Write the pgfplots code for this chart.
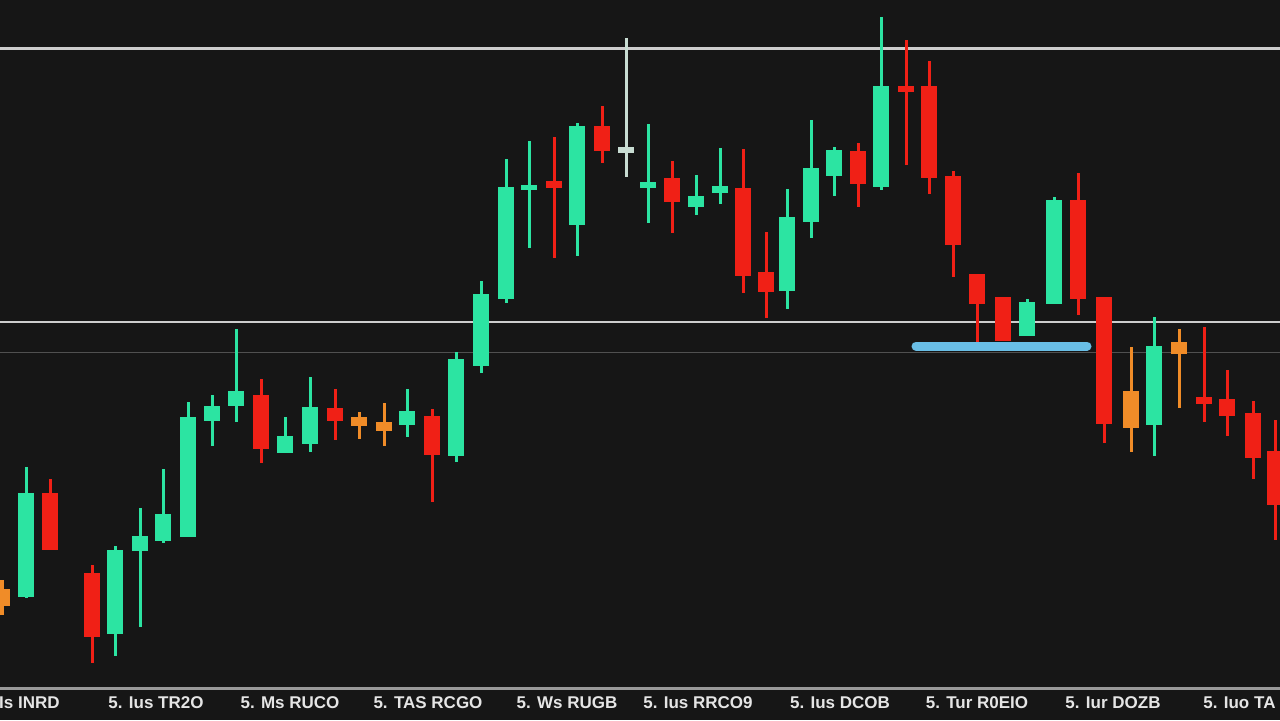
\documentclass[border=0pt]{standalone}
\usepackage{pgfplots}
\usepackage{pgfplotstable}
\usepackage{fontspec}
\setmainfont{Liberation Sans}
\pgfplotsset{compat=1.18}

\definecolor{bg}{RGB}{22,22,22}
\definecolor{up}{RGB}{44,228,162}
\definecolor{down}{RGB}{240,32,22}
\definecolor{amber}{RGB}{240,140,40}
\definecolor{doji}{RGB}{200,220,210}
\definecolor{level}{RGB}{205,205,205}
\definecolor{zone}{RGB}{105,190,230}

% x, high, low, body top, body bottom
\pgfplotstableread{
x hi lo top bot
26 253 122 226 124
115 174 64 169 87
140 212 93 183 170
163 251 177 205 180
188 318 184 302 184
212 325 274 313 300
236 391 298 328 315
285 303 268 283 268
310 343 268 312 277
407 331 283 308 296
456 368 258 360 265
481 439 347 425 355
506 561 417 532 422
529 579 472 534 531
577 597 464 593 496
648 596 497 537 533
696 545 505 523 514
720 572 516 533 528
787 531 411 502 430
811 600 482 551 499
834 573 524 569 545
881 703 530 633 534
1027 421 385 417 385
1054 523 417 519 417
1154 403 264 373 296
}\greentab

\pgfplotstableread{
x hi lo top bot
50 241 171 226 171
92 155 57 146 84
261 341 257 324 272
335 331 280 311 300
432 311 218 303 266
554 583 462 538 533
602 614 557 593 570
672 559 487 541 519
743 571 427 531 445
766 488 402 447 429
858 577 513 568 537
906 680 555 633 629
929 659 526 633 543
953 549 443 543 476
977 445 370 445 417
1003 422 380 422 380
1078 547 405 519 422
1104 422 277 422 297
1204 393 298 322 317
1227 350 284 320 305
1253 319 241 306 263
1275 300 180 268 216
}\redtab

\pgfplotstableread{
x hi lo top bot
2 140 105 130 115
359 308 281 302 295
384 317 274 297 290
1131 373 268 328 293
1179 391 312 377 367
}\ambertab

\pgfplotstableread{
x hi lo top bot
626 682 543 572 568
}\dojitab

\pgfplotsset{
  wick/.style={draw=none, no markers,
    error bars/.cd, y dir=both, y explicit, error mark=none,
    error bar style={draw=#1, line width=1.5pt}},
  body/.style={draw=none, no markers,
    error bars/.cd, y dir=both, y explicit, error mark=none,
    error bar style={draw=#1, line width=8pt}},
}
\newcommand{\candles}[2]{%
  \addplot[wick=#2] table[x=x, y expr={(\thisrow{hi}+\thisrow{lo})/2},
    y error expr={(\thisrow{hi}-\thisrow{lo})/2}] {#1};
  \addplot[body=#2] table[x=x, y expr={(\thisrow{top}+\thisrow{bot})/2},
    y error expr={(\thisrow{top}-\thisrow{bot})/2+0.8}] {#1};
}

\begin{document}
\begin{tikzpicture}
\begin{axis}[
  scale only axis, width=640pt, height=360pt,
  xmin=0, xmax=1280, ymin=0, ymax=720,
  axis lines=none, xtick=\empty, ytick=\empty,
  axis background/.style={fill=bg},
]
% levels
\addplot[level, line width=1.5pt] coordinates {(0,672) (1280,672)};
\addplot[level, line width=1.3pt] coordinates {(0,398) (1280,398)};
\addplot[white!25!bg, line width=0.5pt] coordinates {(0,368) (1280,368)};
\addplot[gray!80, line width=1.5pt] coordinates {(0,32) (1280,32)};

\candles{\greentab}{up}
\candles{\redtab}{down}
\candles{\ambertab}{amber}
\candles{\dojitab}{doji}

% support zone
\addplot[zone, line width=4.5pt, line cap=round] coordinates {(916,374) (1087,374)};

% date labels
\begin{scope}[every node/.style={font=\bfseries\fontsize{8.5}{10}\selectfont, text=white!80!gray, inner sep=0pt}]
\node[anchor=east] at (axis cs:60,17) {Is INRD};
\node at (axis cs:156,17) {5. Ius TR2O};
\node at (axis cs:290,17) {5. Ms RUCO};
\node at (axis cs:428,17) {5. TAS RCGO};
\node at (axis cs:567,17) {5. Ws RUGB};
\node at (axis cs:698,17) {5. Ius RRCO9};
\node at (axis cs:840,17) {5. Ius DCOB};
\node at (axis cs:977,17) {5. Tur R0EIO};
\node at (axis cs:1113,17) {5. Iur DOZB};
\node[anchor=west] at (axis cs:1203,17) {5. Iuo TA};
\end{scope}
\end{axis}
\end{tikzpicture}
\end{document}
